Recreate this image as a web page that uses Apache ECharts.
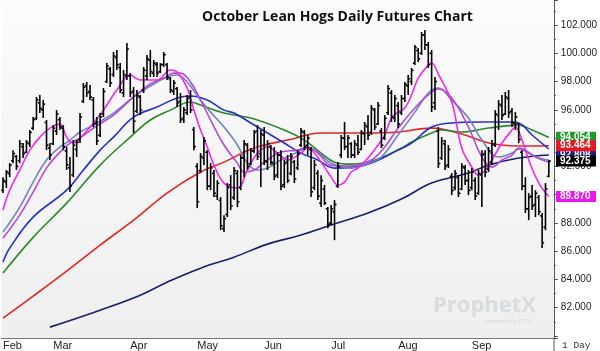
<!DOCTYPE html>
<html>
<head>
<meta charset="utf-8">
<script src="https://cdn.jsdelivr.net/npm/echarts@6/dist/echarts.min.js"></script>
<style>
  html, body { margin: 0; padding: 0; background: #fff; }
  #chart { width: 600px; height: 351px; }
</style>
</head>
<body>
<div id="chart"></div>
<script>
// month names and the bar index where each month starts
var months = ["Feb", "Mar", "Apr", "May", "Jun", "Jul", "Aug", "Sep"];
var monthStart = [0, 15, 38, 58, 78, 98, 118, 140];

// daily OHLC
var opens = [90.3,90.9,91.5,92.4,92.7,92.4,93.4,93.0,93.6,94.7,
  95.4,96.5,96.0,95.1,93.3,93.6,94.5,95.3,94.7,93.1,
  91.9,91.4,93.2,93.9,96.6,97.7,97.3,96.7,95.1,94.2,
  95.7,98.0,98.9,98.5,99.7,99.0,97.2,98.4,98.4,97.3,
  95.9,96.9,97.4,98.4,99.5,98.6,99.2,98.7,99.2,99.2,
  98.2,97.3,97.5,96.6,95.4,95.8,96.9,94.6,92.0,91.7,
  92.6,93.0,90.6,91.5,89.9,89.6,87.6,88.6,90.7,89.8,
  91.5,90.5,92.6,93.5,92.2,93.1,94.5,92.9,94.2,92.3,
  93.4,92.2,91.4,92.8,90.7,92.3,91.5,92.3,91.9,93.5,
  94.4,93.5,93.2,90.5,91.5,89.4,90.4,89.0,88.0,88.8,
  90.6,92.8,94.0,93.4,93.6,92.8,93.5,93.2,94.3,94.8,
  94.4,96.0,95.0,94.5,94.0,95.8,97.2,95.4,96.3,95.8,
  96.8,97.7,98.0,99.3,100.2,100.0,101.3,100.6,100.0,96.5,
  94.5,92.6,93.6,92.1,91.3,90.5,91.2,90.4,91.9,91.0,
  90.5,91.0,90.1,91.4,92.9,91.8,92.3,93.5,95.6,96.3,
  95.7,96.8,95.9,95.0,95.0,93.0,90.6,89.0,89.9,89.3,
  89.8,88.5,87.7,91.3];
var highs = [91.24,91.74,92.23,93.15,92.80,93.86,93.65,93.86,94.57,95.49,
  96.91,97.05,96.69,95.28,93.65,94.92,95.98,95.49,94.92,93.37,
  92.66,93.86,93.86,95.77,97.90,97.97,97.75,96.91,95.49,95.77,
  97.54,99.31,99.03,100.09,100.23,99.31,98.82,100.73,98.60,97.61,
  97.40,97.05,99.03,99.88,100.23,99.52,99.38,99.31,100.09,99.31,
  98.32,98.11,97.61,97.19,96.20,97.05,97.40,94.78,92.23,92.94,
  94.07,93.15,92.23,91.74,91.03,89.83,88.55,90.82,91.38,91.95,
  91.74,92.80,93.86,93.65,93.30,94.57,94.92,94.57,94.78,93.86,
  93.51,93.37,93.01,93.15,92.45,92.80,92.94,92.45,93.15,94.71,
  94.57,94.22,93.37,92.45,91.74,91.38,90.68,89.12,89.26,89.62,
  92.30,94.22,95.14,94.22,93.72,93.86,94.22,94.57,95.14,95.63,
  96.34,96.13,96.55,94.71,95.63,97.75,97.40,97.05,96.55,97.05,
  97.97,98.46,98.96,100.58,100.37,101.51,101.65,100.80,100.23,98.32,
  94.78,94.07,93.86,93.51,91.53,91.74,91.38,92.23,92.09,91.74,
  91.88,91.24,91.74,93.15,93.15,93.37,93.86,95.98,96.69,97.05,
  97.26,97.40,96.13,95.84,95.07,93.15,91.24,90.11,90.68,90.32,
  89.97,88.70,90.82,92.45];
var lows = [90.11,90.47,91.24,92.23,91.74,92.23,92.59,92.94,93.37,94.57,
  95.28,95.77,95.42,93.15,92.45,93.51,94.22,94.57,93.15,91.74,
  90.18,91.24,92.66,93.65,96.48,96.91,96.69,94.78,93.51,94.07,
  95.49,97.90,97.61,98.32,98.82,97.19,96.91,98.11,96.91,94.36,
  95.77,95.63,97.19,98.11,98.32,98.32,98.32,98.60,99.03,98.11,
  97.19,97.05,96.20,95.07,95.07,95.63,95.77,93.15,89.05,91.53,
  92.09,90.32,90.32,89.83,89.62,87.49,87.35,88.41,88.91,89.62,
  89.12,90.32,91.24,91.74,92.09,92.94,92.45,90.54,92.09,91.74,
  92.09,91.03,91.17,90.32,90.47,90.82,91.38,90.82,91.74,93.37,
  93.15,92.80,89.83,90.32,89.62,89.12,89.26,87.63,87.85,86.78,
  90.47,92.59,93.15,92.59,92.59,92.59,92.80,93.15,93.51,93.86,
  94.22,94.57,94.92,93.30,93.86,95.63,95.14,95.14,94.71,95.63,
  96.55,97.05,97.75,99.17,99.38,99.88,100.23,98.96,95.84,95.98,
  91.88,92.45,91.74,91.88,89.97,90.32,89.83,90.32,90.68,89.97,
  90.32,89.62,89.97,89.12,91.24,91.60,92.09,93.37,94.57,95.28,
  95.63,95.42,94.78,94.57,93.65,90.32,88.70,88.20,88.91,88.41,
  88.55,86.22,87.49,91.24];
var closes = [91.0,91.6,92.1,92.9,92.0,93.6,92.9,93.7,94.4,95.3,
  96.7,96.1,96.4,93.5,92.8,94.7,95.7,94.8,93.4,92.1,
  90.6,93.5,93.7,95.5,97.6,97.2,96.9,95.0,93.8,95.5,
  97.3,99.1,97.9,99.8,99.2,97.4,98.5,100.3,97.2,95.2,
  97.0,96.0,98.8,99.6,98.7,99.3,98.6,99.2,99.9,98.3,
  97.4,97.9,96.5,95.3,96.0,96.8,96.0,93.4,89.5,92.7,
  93.8,90.6,91.9,90.1,90.8,87.8,88.3,90.5,89.2,91.7,
  89.5,92.6,93.6,92.0,93.1,94.4,92.7,94.3,92.4,93.6,
  92.3,91.3,92.8,90.6,92.2,91.0,92.7,91.1,92.9,94.5,
  93.4,94.0,90.2,92.1,89.9,91.0,89.4,87.9,89.0,89.3,
  92.0,94.0,93.4,94.0,92.8,93.6,93.0,94.4,94.9,94.2,
  96.1,94.8,96.3,93.5,95.4,97.5,95.5,96.8,95.0,96.8,
  97.8,98.2,98.8,100.4,99.6,101.3,100.6,99.2,96.2,98.0,
  92.2,93.8,92.0,93.2,90.3,91.5,90.1,92.0,91.0,90.3,
  91.6,89.9,91.5,92.8,91.6,93.1,93.6,95.7,96.4,95.6,
  96.9,95.8,95.1,95.5,93.9,90.6,89.0,89.8,89.2,90.1,
  88.8,86.6,90.4,92.375];

// moving averages, [bar index, value]
var maMagenta = [[0,88.91],[2,90.32],[5,91.74],[8,93.15],[11,94.07],[14,94.71],[17,94.99],[19,94.07],[21,93.65],[23,94.00],
  [26,94.78],[30,95.98],[34,97.40],[38,98.46],[41,98.11],[46,98.11],[50,98.82],[52,98.67],[55,97.54],[57,95.98],
  [59,94.57],[61,93.37],[63,92.09],[66,90.82],[70,90.47],[73,91.74],[76,92.94],[79,93.37],[82,92.94],[85,92.45],
  [89,92.94],[91,93.30],[93,92.94],[96,91.95],[98,91.24],[100,90.68],[102,90.89],[104,91.60],[106,91.88],[109,92.59],
  [112,93.51],[114,94.22],[116,95.42],[118,95.84],[120,96.13],[122,97.05],[124,98.25],[127,99.17],[128,99.31],[130,98.53],
  [134,96.55],[137,93.30],[140,91.95],[142,91.38],[144,91.74],[146,92.45],[149,93.65],[152,94.57],[153,94.78],[155,93.86],
  [157,92.45],[160,90.82],[163,89.87]];
var maPurple = [[0,86.93],[5,88.55],[9,90.18],[13,91.88],[17,93.01],[20,93.65],[23,94.00],[27,94.71],[33,95.63],[39,96.91],
  [44,97.83],[48,98.25],[51,98.60],[53,98.60],[56,97.97],[59,96.69],[62,95.28],[66,93.51],[70,92.23],[72,91.60],
  [75,91.74],[78,92.30],[83,93.01],[88,93.15],[91,93.37],[94,92.94],[98,92.09],[104,92.02],[110,92.45],[114,93.37],
  [118,94.71],[123,96.13],[127,97.05],[130,97.47],[134,96.83],[139,94.78],[143,92.66],[146,91.95],[149,92.45],[152,92.80],
  [154,93.30],[156,93.15],[159,92.66],[163,92.30]];
var maSlate = [[0,87.35],[5,89.12],[9,90.89],[13,92.45],[17,93.37],[20,93.86],[23,94.43],[27,94.92],[33,95.77],[39,96.91],
  [44,97.68],[49,98.32],[52,98.46],[55,97.97],[59,96.69],[62,95.84],[66,94.78],[70,93.51],[73,92.23],[76,91.74],
  [79,91.88],[83,92.45],[88,93.01],[91,93.30],[94,93.01],[98,92.23],[104,91.88],[110,92.30],[113,92.66],[118,94.22],
  [123,95.84],[127,97.19],[130,97.54],[134,96.69],[139,95.42],[143,93.86],[148,92.66],[152,92.94],[154,93.23],[157,92.94],
  [160,92.59],[163,92.45]];
var maBlue = [[0,85.23],[2,86.22],[9,88.41],[19,90.32],[24,91.74],[29,93.15],[33,94.07],[39,95.49],[46,96.20],[52,96.83],
  [56,96.98],[61,96.69],[66,95.98],[69,95.77],[74,95.07],[79,94.36],[84,93.65],[89,92.94],[94,92.45],[99,91.88],
  [108,92.09],[118,93.15],[122,93.65],[128,94.78],[134,95.07],[143,95.14],[151,95.14],[154,95.07],[158,94.22],[163,93.23]];
var maGreen = [[0,84.45],[9,86.98],[19,89.40],[29,92.09],[38,94.07],[44,95.28],[50,95.98],[56,96.55],[59,96.34],[66,95.77],
  [74,95.42],[84,94.57],[90,93.86],[95,92.94],[99,92.30],[104,92.16],[112,92.52],[119,93.30],[122,93.72],[128,94.36],
  [131,94.57],[137,94.43],[145,94.71],[154,94.92],[158,94.57],[163,94.05]];
var maRed = [[0,81.26],[9,82.82],[19,84.59],[29,86.43],[39,88.20],[49,90.11],[59,91.60],[66,92.30],[75,93.30],[85,93.86],
  [95,94.36],[108,94.36],[118,94.43],[128,94.71],[137,94.29],[145,93.65],[154,93.44],[163,93.46]];
var maNavy = [[14,80.63],[29,81.83],[41,82.89],[49,83.81],[59,84.80],[69,85.58],[79,86.50],[89,87.14],[98,87.85],[109,88.70],
  [119,89.69],[128,90.82],[139,91.53],[145,92.09],[154,92.59],[163,92.81]];

// last-value tags on the price axis
var tagValues = [94.054, 92.808, 93.464, 92.375, 89.870];
var tagColors = ["#1f9a2a", "#1b1b8c", "#e8161e", "#000000", "#f015f0"];
// axis labels hidden under tags
var hiddenTicks = [90, 94];

var categories = [];
for (var i = 0; i < 165; i++) categories.push("d" + i);
var ohlc = opens.map(function (o, i) {
  return [i, o, closes[i], lows[i], highs[i]];
});

function monthOf(idx) {
  return monthStart.indexOf(idx);
}

function maLine(data, color) {
  return {
    type: "line",
    data: data,
    smooth: 0.4,
    showSymbol: false,
    silent: true,
    z: 3,
    lineStyle: { color: color, width: 1.6 },
  };
}

var chart = echarts.init(document.getElementById("chart"));
chart.setOption({
  animation: false,
  backgroundColor: "#ffffff",
  title: {
    text: "October Lean Hogs Daily Futures Chart",
    left: 197,
    top: 5,
    textStyle: { fontSize: 14, fontWeight: "bold", fontFamily: "Open Sans", color: "#111" },
  },
  grid: {
    left: 0,
    right: 46,
    top: 0,
    bottom: 13,
    show: true,
    borderWidth: 0,
    backgroundColor: {
      type: "linear", x: 0, y: 0, x2: 0, y2: 1,
      colorStops: [{ offset: 0, color: "#fbfbfb" }, { offset: 1, color: "#efefef" }],
    },
  },
  xAxis: [
    {
      type: "category",
      data: categories,
      boundaryGap: true,
      axisLine: { lineStyle: { color: "#777", width: 1 } },
      axisTick: {
        length: 13,
        interval: function (idx) { return monthOf(idx) >= 0; },
        lineStyle: { color: "#555" },
      },
      axisLabel: {
        interval: function (idx) { return monthOf(idx) >= 0; },
        formatter: function (v, idx) { return months[monthOf(idx)] || ""; },
        align: "left",
        margin: 2,
        fontSize: 11,
        fontFamily: "Liberation Sans",
        color: "#222",
      },
      splitLine: { show: false },
    },
    {
      type: "category",
      data: categories,
      position: "bottom",
      axisLine: { show: false },
      axisTick: { length: 3, interval: 4, lineStyle: { color: "#777" } },
      axisLabel: { show: false },
    },
  ],
  yAxis: {
    type: "value",
    position: "right",
    min: 79.86,
    max: 103.77,
    splitNumber: 12,
    axisLine: { show: true, lineStyle: { color: "#555" } },
    axisTick: { show: true, length: 4, lineStyle: { color: "#555" } },
    minorTick: { show: true, splitNumber: 2, length: 2, lineStyle: { color: "#555" } },
    splitLine: { show: false },
    axisLabel: {
      margin: 7,
      fontSize: 10,
      fontFamily: "Liberation Sans",
      color: "#222",
      showMinLabel: false,
      showMaxLabel: false,
      formatter: function (v) {
        if (v < 81 || hiddenTicks.indexOf(Math.round(v)) >= 0) return "";
        return v.toFixed(3);
      },
    },
  },
  series: [
    maLine(maNavy, "#1c1c6e"),
    maLine(maRed, "#e02626"),
    maLine(maGreen, "#2a8a2a"),
    maLine(maBlue, "#2430c8"),
    maLine(maSlate, "#7282bc"),
    maLine(maPurple, "#b24ad6"),
    maLine(maMagenta, "#ee2aee"),
    {
      type: "custom",
      data: ohlc,
      encode: { x: 0, y: [1, 2, 3, 4] },
      z: 4,
      renderItem: function (params, api) {
        var x = api.value(0);
        var o = api.coord([x, api.value(1)]);
        var c = api.coord([x, api.value(2)]);
        var l = api.coord([x, api.value(3)]);
        var h = api.coord([x, api.value(4)]);
        var st = { stroke: "#000", lineWidth: 1.6 };
        return {
          type: "group",
          children: [
            { type: "line", shape: { x1: h[0], y1: h[1], x2: l[0], y2: l[1] }, style: st },
            { type: "line", shape: { x1: o[0] - 2, y1: o[1], x2: o[0], y2: o[1] }, style: st },
            { type: "line", shape: { x1: c[0], y1: c[1], x2: c[0] + 2, y2: c[1] }, style: st },
          ],
        };
      },
    },
  ],
});

// tags and decorations placed with the chart's own scale
var graphics = [
  { type: "line", shape: { x1: 554, y1: 338, x2: 554, y2: 351 }, style: { stroke: "#555", lineWidth: 1 } },
  { type: "text", left: 562, top: 340, style: { text: "1 Day", font: "9.5px 'Liberation Mono'", fill: "#333" } },
  { type: "text", left: 433, top: 295, style: { text: "ProphetX", font: "bold 22px 'Open Sans'", fill: "#d9dcdf" } },
  { type: "text", left: 484, top: 318, style: { text: "powered by DTN", font: "6px 'Open Sans'", fill: "#d4d4d4" } },
];
tagValues.forEach(function (v, k) {
  var y = chart.convertToPixel({ yAxisIndex: 0 }, v);
  graphics.push({
    type: "group",
    z: 10 + k,
    children: [
      { type: "rect", shape: { x: 556, y: y - 5.5, width: 40, height: 11 }, style: { fill: tagColors[k] }, z: 10 + k },
      { type: "text", x: 560, y: y - 5, z: 10 + k,
        style: { text: v.toFixed(3), font: "bold 10px 'Liberation Sans'", fill: "#fff" } },
    ],
  });
});
chart.setOption({ graphic: graphics });
</script>
</body>
</html>
